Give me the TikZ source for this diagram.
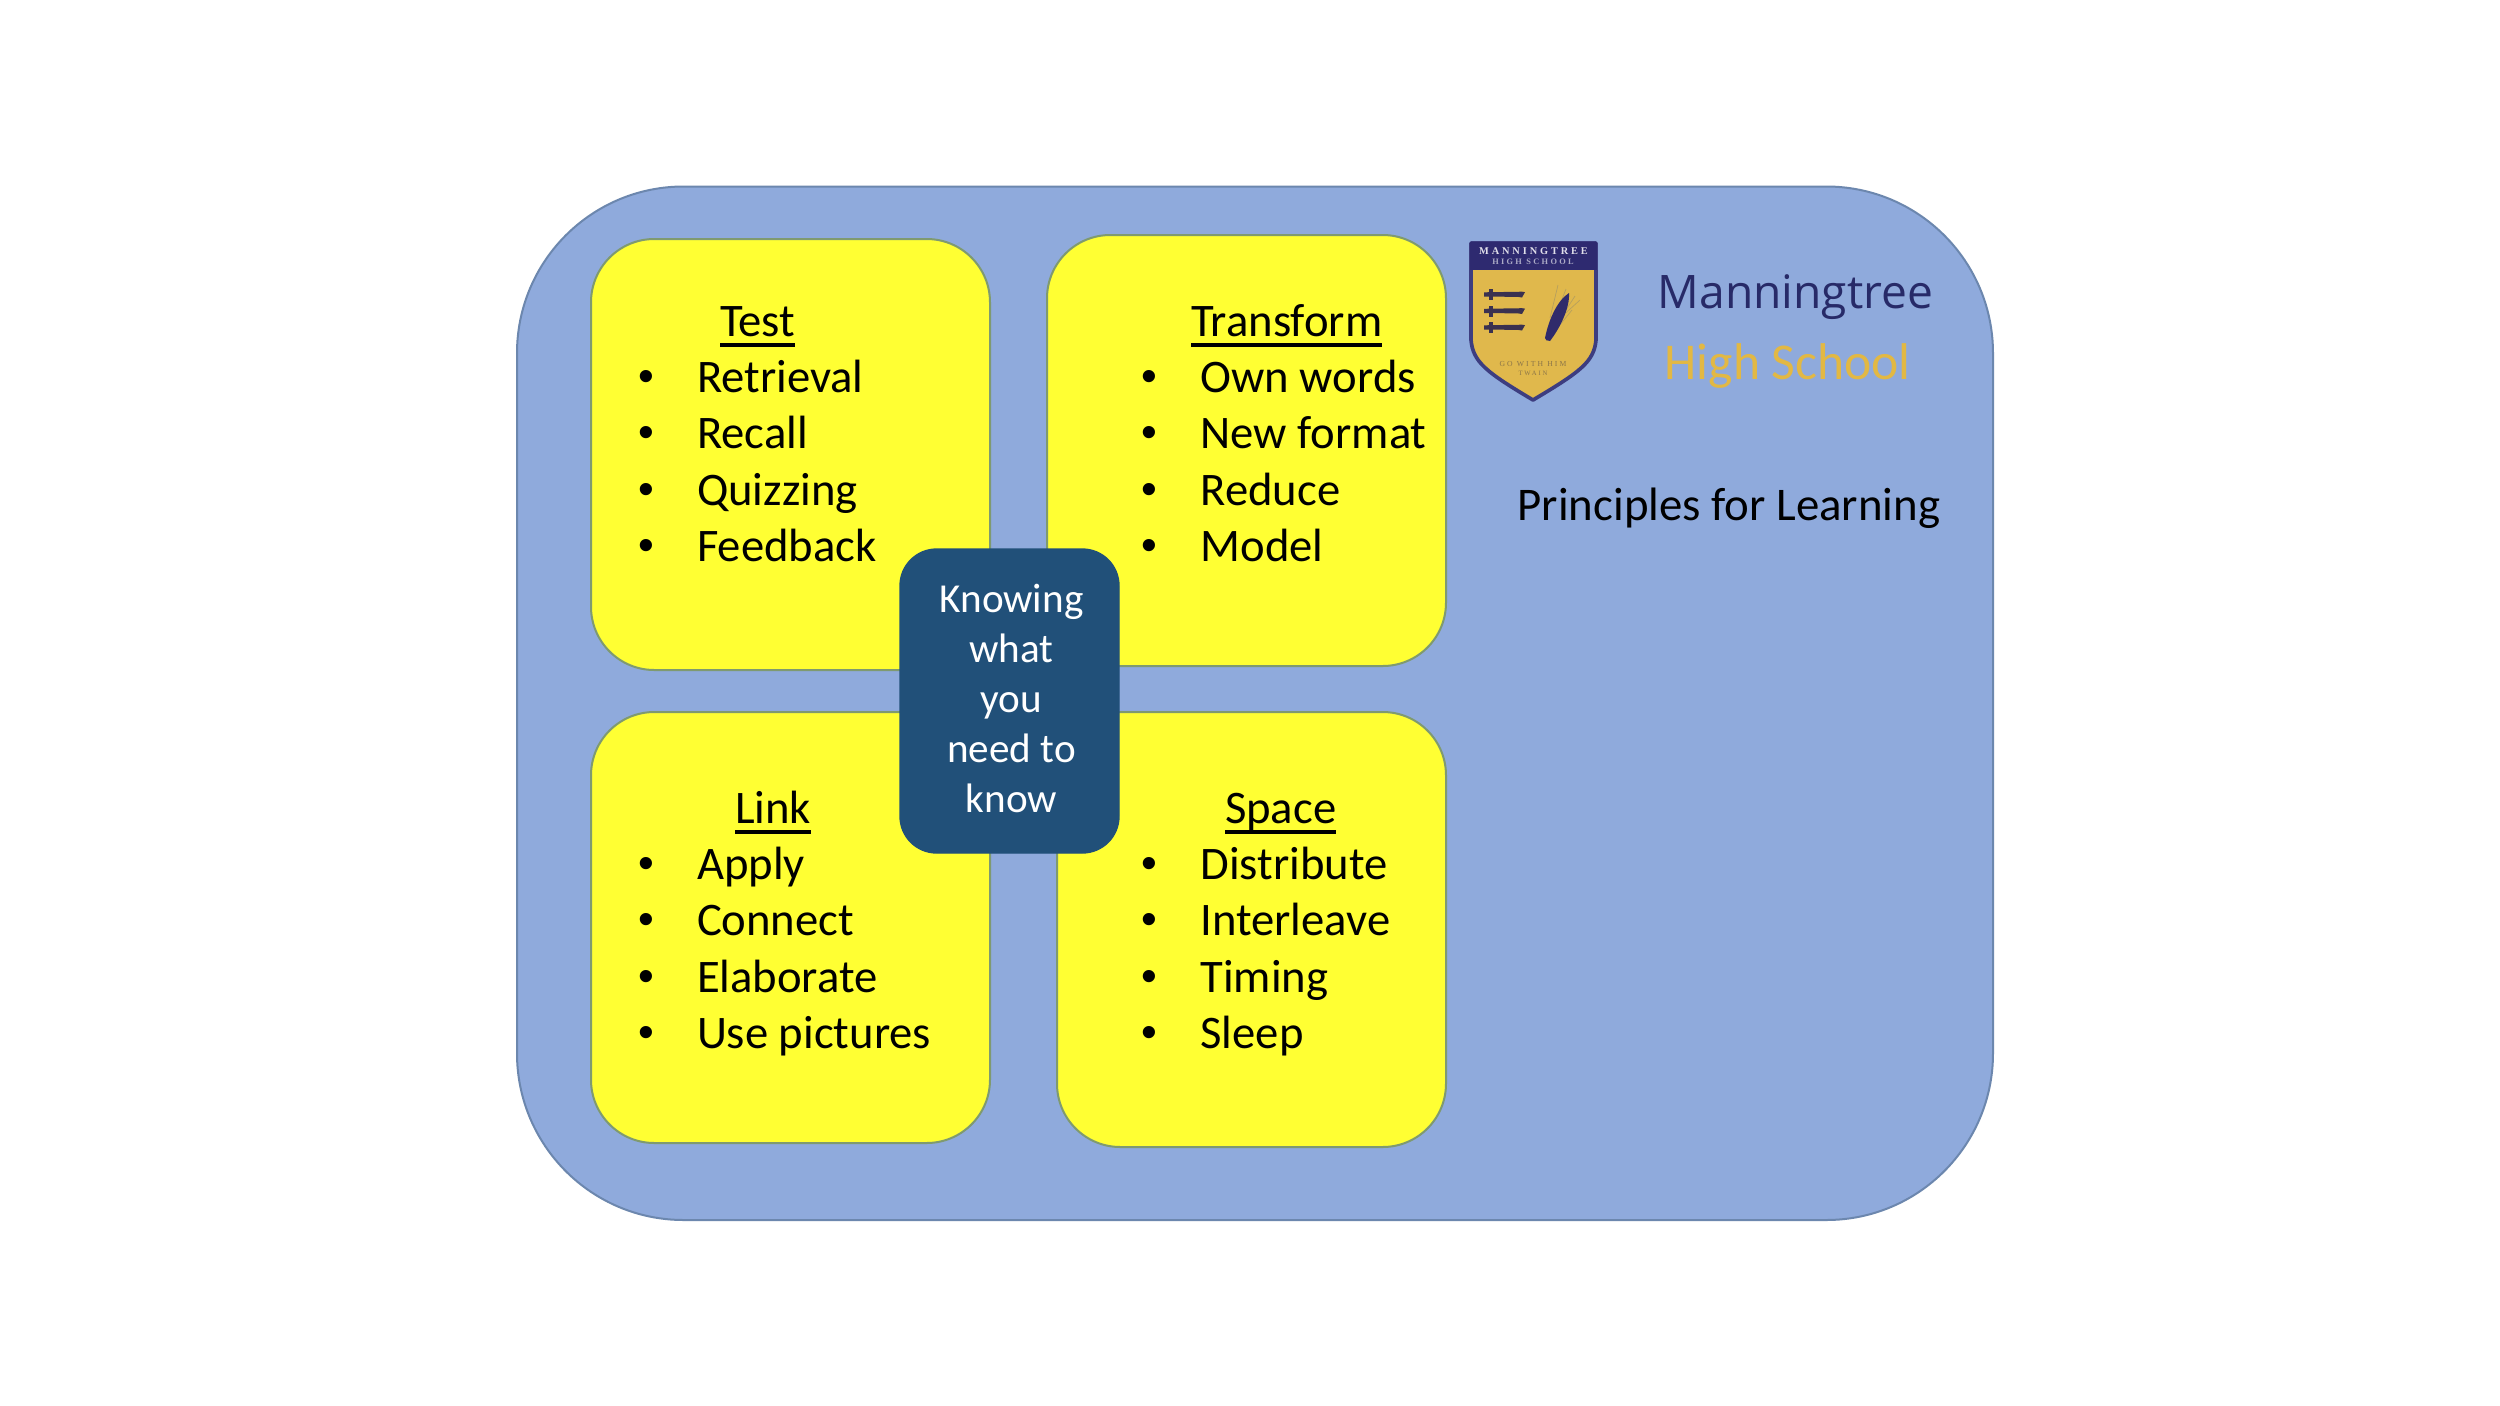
\documentclass[tikz,border=0pt]{standalone}
\usepackage{fontspec}
\setmainfont{Carlito}
\newfontfamily\bulletfont{Liberation Sans}
\newfontfamily\opensans{Open Sans}
\newfontfamily\crestfont[LetterSpace=28]{Liberation Serif}
\definecolor{panelblue}{HTML}{8FAADC}
\definecolor{panelline}{HTML}{6C87AE}
\definecolor{noteyellow}{HTML}{FFFF33}
\definecolor{noteline}{HTML}{7F9A70}
\definecolor{hubblue}{HTML}{215079}
\definecolor{navy}{HTML}{272A68}
\definecolor{gold}{HTML}{E2B844}
\definecolor{crestgold}{HTML}{E0B84C}
\definecolor{crestnavy}{HTML}{2E2A70}
\definecolor{creststeel}{HTML}{3A3150}
\definecolor{crestink}{HTML}{8A7448}
\definecolor{crestwisp}{HTML}{B59F5E}
\newcommand\headul[1]{\setbox0=\hbox{#1}\copy0\llap{\rule[-3.2pt]{\wd0}{1.2pt}}}
\tikzset{
  x=0.3pt,y=-0.3pt,
  lbl/.style={inner sep=0pt,outer sep=0pt,anchor=base west,text=black,font=\fontsize{14}{16}\selectfont},
  dotb/.style={inner sep=0pt,outer sep=0pt,anchor=base west,text=black,font=\bulletfont\fontsize{13.5}{16}\selectfont},
  hubtxt/.style={inner sep=0pt,outer sep=0pt,anchor=base,text=white,font=\fontsize{12.35}{15}\selectfont},
  note/.style={fill=noteyellow,draw=noteline,line width=0.6pt,rounded corners=19pt},
  cresttxt/.style={inner sep=0pt,outer sep=0pt,anchor=base},
  swordpart/.style={fill=creststeel,draw=none},
}
\begin{document}
\begin{tikzpicture}
\useasboundingbox (0,0) rectangle (2500,1406);
\fill[white] (0,0) rectangle (2500,1406);
% panel
\draw[fill=panelblue,draw=panelline,line width=0.6pt,rounded corners=50pt] (517,186.5) rectangle (1993,1220);
% notes
\draw[note] (591,239) rectangle (990,670);
\draw[note] (1047,235) rectangle (1446,666);
\draw[note] (591,712) rectangle (990,1143);
\draw[note] (1057,712) rectangle (1446,1147);
% hub
\node[fill=hubblue,draw=hubblue,line width=0.4pt,rounded corners=11pt,minimum width=65.7pt,minimum height=91.2pt,inner sep=0pt] (hub) at (1009.5,701) {};
% Test
\node[lbl] (t0) at (720,336) {\headul{Test}};
\foreach \n/\y/\s in {a/392/Retrieval,b/448.5/Recall,c/505/Quizzing,d/561.5/Feedback}{
  \node[dotb] (tb\n) at (638,\y-1) {•};
  \node[lbl] (t\n) at (697,\y) {\s};
}
% Transform
\node[lbl] (f0) at (1191,336) {\headul{Transform}};
\foreach \n/\y/\s in {a/392/Own words,b/448.5/New format,c/505/Reduce,d/561.5/Model}{
  \node[dotb] (fb\n) at (1141,\y-1) {•};
  \node[lbl] (f\n) at (1200.5,\y) {\s};
}
% Link
\node[lbl] (l0) at (735,823.5) {\headul{Link}};
\foreach \n/\y/\s in {a/879.5/Apply,b/935.5/Connect,c/992/Elaborate,d/1048.5/Use pictures}{
  \node[dotb] (lb\n) at (638,\y-1) {•};
  \node[lbl] (l\n) at (697,\y) {\s};
}
% Space
\node[lbl] (s0) at (1225,823.5) {\headul{Space}};
\foreach \n/\y/\s in {a/879.5/Distribute,b/935.5/Interleave,c/992/Timing,d/1048.5/Sleep}{
  \node[dotb] (sb\n) at (1141,\y-1) {•};
  \node[lbl] (s\n) at (1200.5,\y) {\s};
}
% hub text
\foreach \n/\y/\s in {a/612/Knowing,b/662/what,c/712/you,d/762/need to,e/812/know}{
  \node[hubtxt] (h\n) at (1011.5,\y) {\s};
}
% school name
\node[inner sep=0pt,anchor=base west,text=navy,font=\opensans\fontsize{13.85}{16}\selectfont] (mt) at (1657,308) {Manningtree};
\node[inner sep=0pt,anchor=base west,text=gold,font=\fontsize{15.5}{18}\selectfont] (hs) at (1664,379) {High School};
\node[inner sep=0pt,anchor=base west,text=black,font=\fontsize{14.05}{16}\selectfont] (pl) at (1517,520) {Principles for Learning};
% crest
\draw[fill=crestgold,draw=crestnavy!85!panelblue,line width=1.1pt,line join=round]
  (1471,243) -- (1596,243) -- (1596,340)
  .. controls (1594,362) and (1580,372) .. (1533,400)
  .. controls (1486,372) and (1473,362) .. (1471,340) -- cycle;
\fill[crestnavy] (1470,242) rectangle (1597,270);
\node[cresttxt,text=white!85!crestnavy,font=\crestfont\bfseries\fontsize{3.1}{4}\selectfont] (c1) at (1533.5,254) {MANNINGTREE};
\node[cresttxt,text=white!60!crestnavy,font=\crestfont\bfseries\fontsize{2.5}{3}\selectfont] (c2) at (1533,264.5) {HIGH SCHOOL};
% swords
\foreach \yy in {294.5,311,327.5}{
  \fill[swordpart] (1484,\yy-2.2) -- (1522,\yy-2.8) -- (1525,\yy-2.4) -- (1522,\yy+3) -- (1518,\yy+2.4) -- (1484,\yy+2) -- cycle;
  \fill[swordpart] (1489,\yy-5.5) rectangle (1492.5,\yy+5.5);
}
% wheat
\foreach \a/\b/\c/\d in {1552/325/1566/289,1555/327/1575/296,1550/318/1558/285,1558/320/1580/300,1551/336/1572/310}{
  \draw[crestwisp,line width=0.2pt] (\a,\b) -- (\c,\d);
}
\fill[crestnavy!85!creststeel] (1545,338) .. controls (1549,318) and (1558,300) .. (1569,293)
  .. controls (1570,308) and (1560,328) .. (1550,341) .. controls (1547,341) and (1545,340) .. (1545,338) -- cycle;
% motto
\node[cresttxt,text=crestink,font=\crestfont\fontsize{2.3}{3}\selectfont] (c3) at (1533,366) {GO WITH HIM};
\node[cresttxt,text=crestink,font=\crestfont\fontsize{2.0}{3}\selectfont] (c4) at (1533,375) {TWAIN};
\end{tikzpicture}
\end{document}
